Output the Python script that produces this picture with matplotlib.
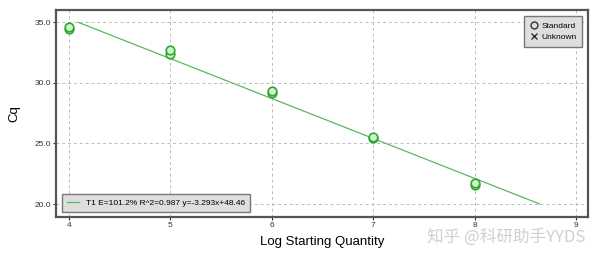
import numpy as np
import matplotlib
matplotlib.use('Agg')
import matplotlib.pyplot as plt
from matplotlib.lines import Line2D

# standard curve points (log quantity, Cq), two replicates each
log_qty = [4, 4, 5, 5, 6, 6, 7, 7, 8, 8]
cq = [34.45, 34.6, 32.4, 32.7, 29.15, 29.3, 25.45, 25.5, 21.55, 21.75]

slope = -3.293
intercept = 48.46
fit_x = [4.09, 8.64]
fit_label = 'T1 E=101.2% R^2=0.987 y=-3.293x+48.46'

xticks = [4, 5, 6, 7, 8, 9]
yticks = [20.0, 25.0, 30.0, 35.0]

plt.rcParams['font.family'] = ['Liberation Sans', 'DejaVu Sans']
fig = plt.figure(figsize=(6, 2.57), dpi=100)
ax = fig.add_axes([0.0933, 0.1556, 0.8867, 0.8054])

fx = np.array(fit_x)
line, = ax.plot(fx, slope * fx + intercept, color='#5cb85c', lw=0.9)
ax.scatter(log_qty, cq, s=38, facecolors='#d2f2d2', edgecolors='#2ea82e', linewidths=1.2, zorder=3)

ax.set_xlim(3.872, 9.118)
ax.set_ylim(18.93, 36.0)
ax.set_xticks(xticks)
ax.set_xticklabels([str(t) for t in xticks])
ax.set_yticks(yticks)
ax.set_yticklabels(['%.1f' % t for t in yticks])
ax.tick_params(labelsize=6, length=2, pad=1.5, colors='#333333')
ax.grid(True, ls=(0, (3, 3)), color='#bbbbbb', lw=0.7)
for s in ax.spines.values():
    s.set_color('#555555')
    s.set_linewidth(1.6)

ax.set_xlabel('Log Starting Quantity', fontsize=9.5, labelpad=5)
ax.set_ylabel('Cq', fontsize=9.5, labelpad=10)

h1 = Line2D([], [], marker='o', ls='', mfc='none', mec='#333333', ms=5)
h2 = Line2D([], [], marker='x', ls='', color='#333333', ms=5)
leg1 = ax.legend([h1, h2], ['Standard', 'Unknown'], loc='upper right', fontsize=6,
                 frameon=True, fancybox=False, facecolor='#dedede', edgecolor='#777777',
                 handletextpad=0.4, borderpad=0.7, labelspacing=0.4, handlelength=1.0,
                 bbox_to_anchor=(0.997, 0.99))
leg1.get_frame().set_alpha(1)
ax.add_artist(leg1)
leg2 = ax.legend([line], [fit_label], loc='lower left', fontsize=6, frameon=True,
                 fancybox=False, facecolor='#dedede', edgecolor='#777777',
                 handlelength=1.5, borderpad=0.6, bbox_to_anchor=(0.003, 0.005))
leg2.get_frame().set_alpha(1)

fig.text(0.976, 0.045, '知乎 @科研助手YYDS', ha='right', va='bottom', fontsize=12,
         color='#d0d0d0', family=['Noto Sans CJK SC', 'DejaVu Sans'])

fig.savefig('out.png', dpi=100)
plt.close(fig)
